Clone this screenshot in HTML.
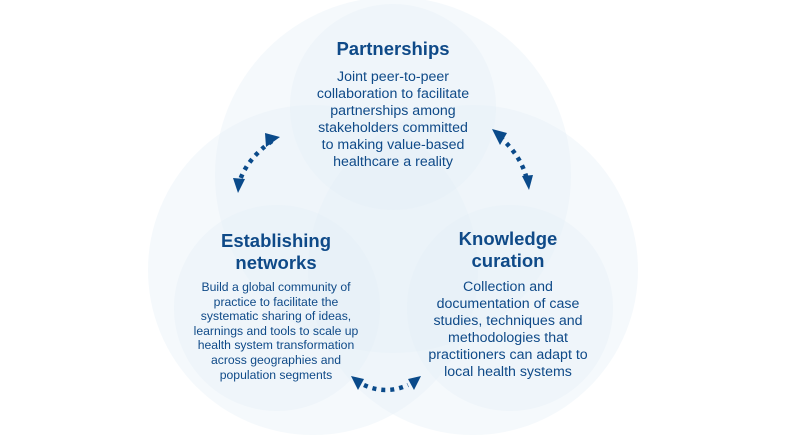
<!DOCTYPE html>
<html><head><style>
body{margin:0;width:786px;height:437px;background:#fff;overflow:hidden;position:relative;font-family:"Liberation Sans",Arial,sans-serif;color:#0f4a88}
svg{position:absolute;left:0;top:0}
.t{position:absolute;text-align:center;font-weight:bold;font-size:18.5px;line-height:22px}
.b{position:absolute;text-align:center;font-size:14.2px;line-height:17px}
</style></head><body>
<svg width="786" height="437">
<g fill="#e4eff7" fill-opacity="0.38">
<circle cx="393" cy="175" r="178"/>
<circle cx="313" cy="270" r="165"/>
<circle cx="473" cy="270" r="165"/>
<circle cx="393" cy="107" r="103"/>
<circle cx="277" cy="308" r="103"/>
<circle cx="510" cy="308" r="103"/>
</g>
<g fill="none" stroke="#0a4a8a" stroke-width="4.5" stroke-dasharray="4 5">
<path d="M272 141 Q248 158 240 180"/>
<path d="M500 137 Q520 155 526 176"/>
<path d="M364 385 Q386 395 408 385"/>
</g>
<g fill="#0a4a8a">
<polygon points="280,137 265,133 266,147"/>
<polygon points="238,193 233,178 245,179"/>
<polygon points="492,129 507,133 500,145"/>
<polygon points="529,190 522,176 533,175"/>
<polygon points="351,376 364,379 358,390"/>
<polygon points="421,376 408,379 414,390"/>
</g>
</svg>
<div class="t" style="left:293px;top:38px;width:200px">Partnerships</div>
<div class="b" style="left:283px;top:69px;width:220px">Joint peer-to-peer<br>collaboration to facilitate<br>partnerships among<br>stakeholders committed<br>to making value-based<br>healthcare a reality</div>
<div class="t" style="left:176px;top:230px;width:200px">Establishing<br>networks</div>
<div class="b" style="left:176px;top:280px;width:200px;font-size:12.2px;line-height:14.6px">Build a global community of<br>practice to facilitate the<br>systematic sharing of ideas,<br>learnings and tools to scale up<br>health system transformation<br>across geographies and<br>population segments</div>
<div class="t" style="left:408px;top:228px;width:200px">Knowledge<br>curation</div>
<div class="b" style="left:393px;top:279px;width:230px">Collection and<br>documentation of case<br>studies, techniques and<br>methodologies that<br>practitioners can adapt to<br>local health systems</div>
</body></html>
